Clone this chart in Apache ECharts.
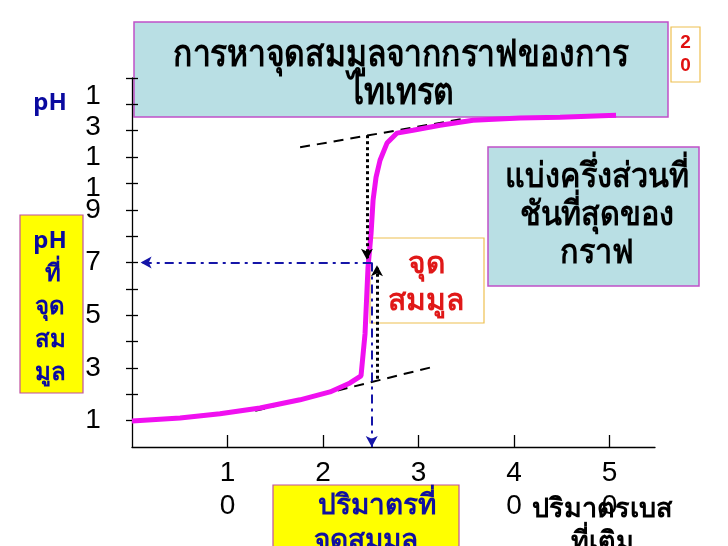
<!DOCTYPE html>
<html><head><meta charset="utf-8">
<script src="https://cdn.jsdelivr.net/npm/echarts@6/dist/echarts.min.js"></script>
<style>html,body{margin:0;padding:0;background:#fff;overflow:hidden}#c{width:728px;height:546px}</style>
</head><body><div id="c"></div>
<script>
// titration curve (volume of base added, pH)
const volume = [0, 5.03, 9.21, 13.40, 17.59, 20.73, 22.83, 23.98, 24.40, 24.71, 25.03, 25.24, 25.55, 25.97, 26.70, 27.75, 29.42, 32.25, 35.71, 40.63, 44.82, 50.68];
const pH     = [0.99, 1.10, 1.26, 1.48, 1.79, 2.09, 2.43, 2.70, 4.30, 6.81, 8.10, 9.36, 10.23, 10.88, 11.53, 11.91, 12.02, 12.21, 12.40, 12.48, 12.51, 12.59];
const xTickValues = [10, 20, 30, 40, 50];
const yTickValuesLow = [1, 3, 5, 7, 9];
const yTickValue11 = [11];
const yTickValue13 = [13];
const yMinorTicks = [1, 2, 3, 4, 5, 6, 7, 8, 9, 10, 11, 12, 13, 14];
// tangent lines (dashed)
const upperTangentX = [17.6, 35.1], upperTangentY = [11.37, 12.48];
const lowerTangentX = [12.9, 31.5], lowerTangentY = [1.37, 3.04];
// dotted arrows between tangents
const upperArrowX = [24.6, 24.6], upperArrowY = [11.83, 7.1];
const lowerArrowX = [25.65, 25.65], lowerArrowY = [2.59, 6.9];
// equivalence point
const eqVolume = 25.1, eqPH = 7.0;
const pHLineStartX = 0.9;

const FONT = "'Liberation Sans', Arial, sans-serif";
const THAI = "Tahoma, 'Noto Sans', 'DejaVu Sans', sans-serif";

const chart = echarts.init(document.getElementById('c'), null, {renderer: 'canvas'});

function pairs(xs, ys) { return xs.map((x, i) => [x, ys[i]]); }
const digits = v => String(v).split('').join('\n');

const blue = '#1515A8';
const yLabelBase = {hideOverlap: false, showMinLabel: true, showMaxLabel: true,
  fontFamily: FONT, fontSize: 28, color: '#000', lineHeight: 31, align: 'center', margin: 39};
const option = {
  animation: false,
  grid: {left: 132, right: 73, top: 78, bottom: 99, containLabel: false},
  xAxis: {
    type: 'value', min: 0, max: 54.76,
    axisLine: {lineStyle: {color: '#000', width: 1.3}},
    axisTick: {show: true, inside: true, length: 12, lineStyle: {color: '#000', width: 1.3}, customValues: xTickValues},
    axisLabel: {customValues: xTickValues, hideOverlap: false, showMinLabel: true, showMaxLabel: true,
      formatter: digits, fontFamily: FONT, fontSize: 28, color: '#000', lineHeight: 33, margin: 10},
    splitLine: {show: false}
  },
  yAxis: [{
    type: 'value', min: 0, max: 14, position: 'left',
    axisLine: {show: true, lineStyle: {color: '#000', width: 1.3}},
    axisTick: {show: true, inside: false, length: 6, lineStyle: {color: '#000', width: 1.3}, customValues: yMinorTicks},
    axisLabel: Object.assign({customValues: yTickValuesLow, formatter: v => String(v)}, yLabelBase),
    splitLine: {show: false}
  }, {
    type: 'value', min: 0, max: 14, position: 'left', offset: 0,
    axisLine: {show: false},
    axisTick: {show: true, inside: true, length: 6, lineStyle: {color: '#000', width: 1.3}, customValues: yMinorTicks},
    axisLabel: Object.assign({customValues: yTickValue11, formatter: v => ' \n' + digits(v)}, yLabelBase),
    splitLine: {show: false}
  }, {
    type: 'value', min: 0, max: 14, position: 'left', offset: 0,
    axisLine: {show: false}, axisTick: {show: false},
    axisLabel: Object.assign({customValues: yTickValue13,
      formatter: v => '{s| }\n' + String(v).split('').map(d => '{a|' + d + '}').join('\n'),
      rich: {s: {lineHeight: 14, fontSize: 8}, a: {lineHeight: 31, fontSize: 28, fontFamily: FONT, color: '#000'}}}, yLabelBase),
    splitLine: {show: false}
  }],
  series: [
    {type: 'line', data: pairs(upperTangentX, upperTangentY), symbol: 'none', z: 3,
     lineStyle: {color: '#000', width: 2, type: [10, 7]}},
    {type: 'line', data: pairs(lowerTangentX, lowerTangentY), symbol: 'none', z: 3,
     lineStyle: {color: '#000', width: 2, type: [10, 7]}},
    {type: 'line', data: pairs(volume, pH), symbol: 'none', z: 4, clip: true,
     lineStyle: {color: '#F010F0', width: 5}},
    {type: 'line', data: [], z: 5,
     markLine: {silent: true, symbol: ['none', 'arrow'], symbolSize: [9, 11], label: {show: false},
       animation: false,
       data: [
         [{coord: [upperArrowX[0], upperArrowY[0]], lineStyle: {color: '#000', width: 3, type: [3, 3]}},
          {coord: [upperArrowX[1], upperArrowY[1]]}],
         [{coord: [lowerArrowX[0], lowerArrowY[0]], lineStyle: {color: '#000', width: 3, type: [3, 3]}},
          {coord: [lowerArrowX[1], lowerArrowY[1]]}],
         [{coord: [eqVolume, eqPH], lineStyle: {color: blue, width: 2, type: [9, 5, 3, 5]}},
          {coord: [pHLineStartX, eqPH]}],
         [{coord: [eqVolume, eqPH], lineStyle: {color: blue, width: 2, type: [9, 5, 3, 5]}},
          {coord: [eqVolume, 0]}]
       ]}}
  ],
  graphic: [
    {type: 'rect', z: -1, shape: {x: 134, y: 22, width: 534, height: 95},
     style: {fill: '#B9DFE4', stroke: '#C050C8', lineWidth: 1.5}},
    {type: 'text', z: 10, x: 401, y: 74, scaleX: 0.84,
     style: {text: 'การหาจุดสมมูลจากกราฟของการ\nไทเทรต', x: 0, y: 0, align: 'center', verticalAlign: 'middle',
      font: 'bold 38px ' + THAI, fill: '#000', lineHeight: 38}},
    {type: 'rect', z: -1, shape: {x: 671, y: 27, width: 29, height: 55},
     style: {fill: '#fff', stroke: '#EEC050', lineWidth: 1.2}},
    {type: 'text', z: 10, style: {text: '2\n0', x: 685.5, y: 54, align: 'center', verticalAlign: 'middle',
      font: 'bold 19px ' + FONT, fill: '#E01010', lineHeight: 23}},
    {type: 'rect', z: -1, shape: {x: 488, y: 147, width: 211, height: 139},
     style: {fill: '#B9DFE4', stroke: '#C050C8', lineWidth: 1.5}},
    {type: 'text', z: 10, x: 597, y: 215, scaleX: 0.9,
     style: {text: 'แบ่งครึ่งส่วนที่\nชันที่สุดของ\nกราฟ', x: 0, y: 0, align: 'center', verticalAlign: 'middle',
      font: 'bold 34px ' + THAI, fill: '#000', lineHeight: 38}},
    {type: 'rect', z: -1, shape: {x: 370, y: 238, width: 114, height: 85},
     style: {fill: '#fff', stroke: '#EEC050', lineWidth: 1.2}},
    {type: 'text', z: 1, style: {text: 'จุด\nสมมูล', x: 426, y: 283, align: 'center', verticalAlign: 'middle',
      font: 'bold 30px ' + THAI, fill: '#E01818', lineHeight: 37}},
    {type: 'rect', z: 5, shape: {x: 20, y: 215, width: 63, height: 178},
     style: {fill: '#FFFF00', stroke: '#C050A0', lineWidth: 1.2}},
    {type: 'text', z: 10, style: {text: 'pH\n ที่\nจุด\nสม\nมูล', x: 50, y: 307, align: 'center', verticalAlign: 'middle',
      font: 'bold 24px ' + THAI, fill: '#0A0AA0', lineHeight: 33}},
    {type: 'text', z: 10, style: {text: 'pH', x: 50, y: 103, align: 'center', verticalAlign: 'middle',
      font: 'bold 24px ' + THAI, fill: '#0A0AA0'}},
    {type: 'rect', z: 50, shape: {x: 273, y: 485, width: 186, height: 80},
     style: {fill: '#FFFF00', stroke: '#C050A0', lineWidth: 1.2}},
    {type: 'text', z: 51, style: {text: '   ปริมาตรที่\nจุดสมมูล', x: 366, y: 524, align: 'center', verticalAlign: 'middle',
      font: 'bold 28px ' + THAI, fill: '#1010A0', lineHeight: 35}},
    {type: 'text', z: 51, style: {text: 'ปริมาตรเบส\nที่เติม', x: 602, y: 526, align: 'center', verticalAlign: 'middle',
      font: 'bold 27px ' + THAI, fill: '#000', lineHeight: 33}}
  ]
};
chart.setOption(option);
</script></body></html>
